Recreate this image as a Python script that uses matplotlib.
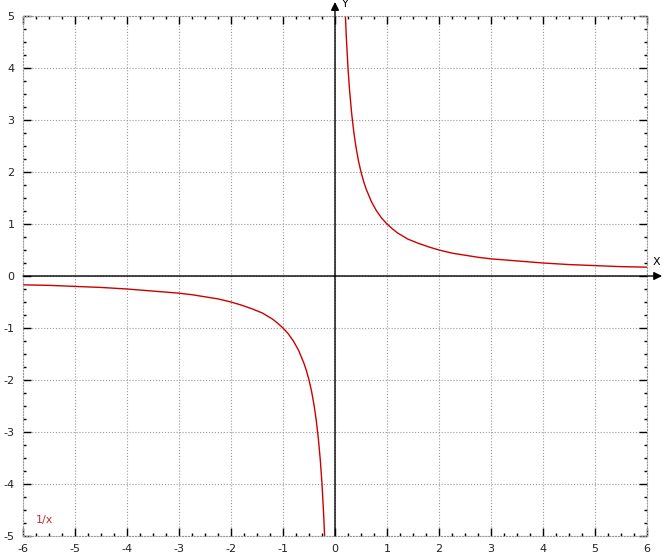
import matplotlib.pyplot as plt
from matplotlib.ticker import MultipleLocator

plt.rcParams['axes.unicode_minus'] = False

# values (right and left branches)
pos_x = [0.2, 0.22, 0.25, 0.28, 0.32, 0.36, 0.4, 0.45, 0.5, 0.55, 0.6, 0.7, 0.8, 0.9, 1.0,
         1.1, 1.2, 1.3, 1.4, 1.5, 1.6, 1.8, 2.0, 2.25, 2.5, 2.75, 3.0, 3.25, 3.5, 3.75, 4.0,
         4.5, 5.0, 5.5, 6.0]
pos_y = [5.0, 4.55, 4.0, 3.57, 3.13, 2.78, 2.5, 2.22, 2.0, 1.82, 1.67, 1.43, 1.25, 1.11, 1.0,
         0.91, 0.83, 0.77, 0.71, 0.67, 0.63, 0.56, 0.5, 0.44, 0.4, 0.36, 0.33, 0.31, 0.29,
         0.27, 0.25, 0.22, 0.2, 0.18, 0.17]
neg_x = [-6.0, -5.5, -5.0, -4.5, -4.0, -3.75, -3.5, -3.25, -3.0, -2.75, -2.5, -2.25, -2.0,
         -1.8, -1.6, -1.5, -1.4, -1.3, -1.2, -1.1, -1.0, -0.9, -0.8, -0.7, -0.6, -0.55, -0.5,
         -0.45, -0.4, -0.36, -0.32, -0.28, -0.25, -0.22, -0.2]
neg_y = [-0.17, -0.18, -0.2, -0.22, -0.25, -0.27, -0.29, -0.31, -0.33, -0.36, -0.4, -0.44,
         -0.5, -0.56, -0.63, -0.67, -0.71, -0.77, -0.83, -0.91, -1.0, -1.11, -1.25, -1.43,
         -1.67, -1.82, -2.0, -2.22, -2.5, -2.78, -3.13, -3.57, -4.0, -4.55, -5.0]
x_ticks = [-6, -5, -4, -3, -2, -1, 0, 1, 2, 3, 4, 5, 6]
y_ticks = [-5, -4, -3, -2, -1, 0, 1, 2, 3, 4, 5]
curve_label = '1/x'

fig = plt.figure(figsize=(6.68, 5.6), dpi=100)
ax = fig.add_axes([23 / 668, 24 / 560, 624 / 668, 520 / 560])

ax.plot(pos_x, pos_y, color='#cc0000', lw=1)
ax.plot(neg_x, neg_y, color='#cc0000', lw=1)

ax.set_xlim(-6, 6)
ax.set_ylim(-5, 5)
ax.set_xticks(x_ticks)
ax.set_yticks(y_ticks)
ax.xaxis.set_minor_locator(MultipleLocator(0.25))
ax.yaxis.set_minor_locator(MultipleLocator(0.25))
ax.tick_params(which='both', direction='in', top=True, right=True, color='k',
               labelsize=8, labelcolor='#222222', pad=6)
ax.tick_params(which='major', length=6, width=1)
ax.tick_params(which='minor', length=2.5, width=1)

ax.grid(True, which='major', linestyle=':', color='#999999', lw=0.8)
for s in ax.spines.values():
    s.set_linestyle(':')
    s.set_color('#999999')
    s.set_linewidth(0.8)

# central axes with arrows
ax.annotate('', xy=(6.29, 0), xytext=(-6, 0), annotation_clip=False,
            arrowprops=dict(arrowstyle='-|>', color='k', lw=1, mutation_scale=12,
                            shrinkA=0, shrinkB=0))
ax.annotate('', xy=(0, 5.27), xytext=(0, -5), annotation_clip=False,
            arrowprops=dict(arrowstyle='-|>', color='k', lw=1, mutation_scale=12,
                            shrinkA=0, shrinkB=0))
ax.text(6.19, 0.27, 'X', fontsize=8, ha='center', va='center', clip_on=False)
ax.text(0.19, 5.23, 'Y', fontsize=8, ha='center', va='center', clip_on=False)

ax.text(-5.75, -4.69, curve_label, color='#c03030', fontsize=8, ha='left', va='center')

fig.savefig('out.png', dpi=100)
